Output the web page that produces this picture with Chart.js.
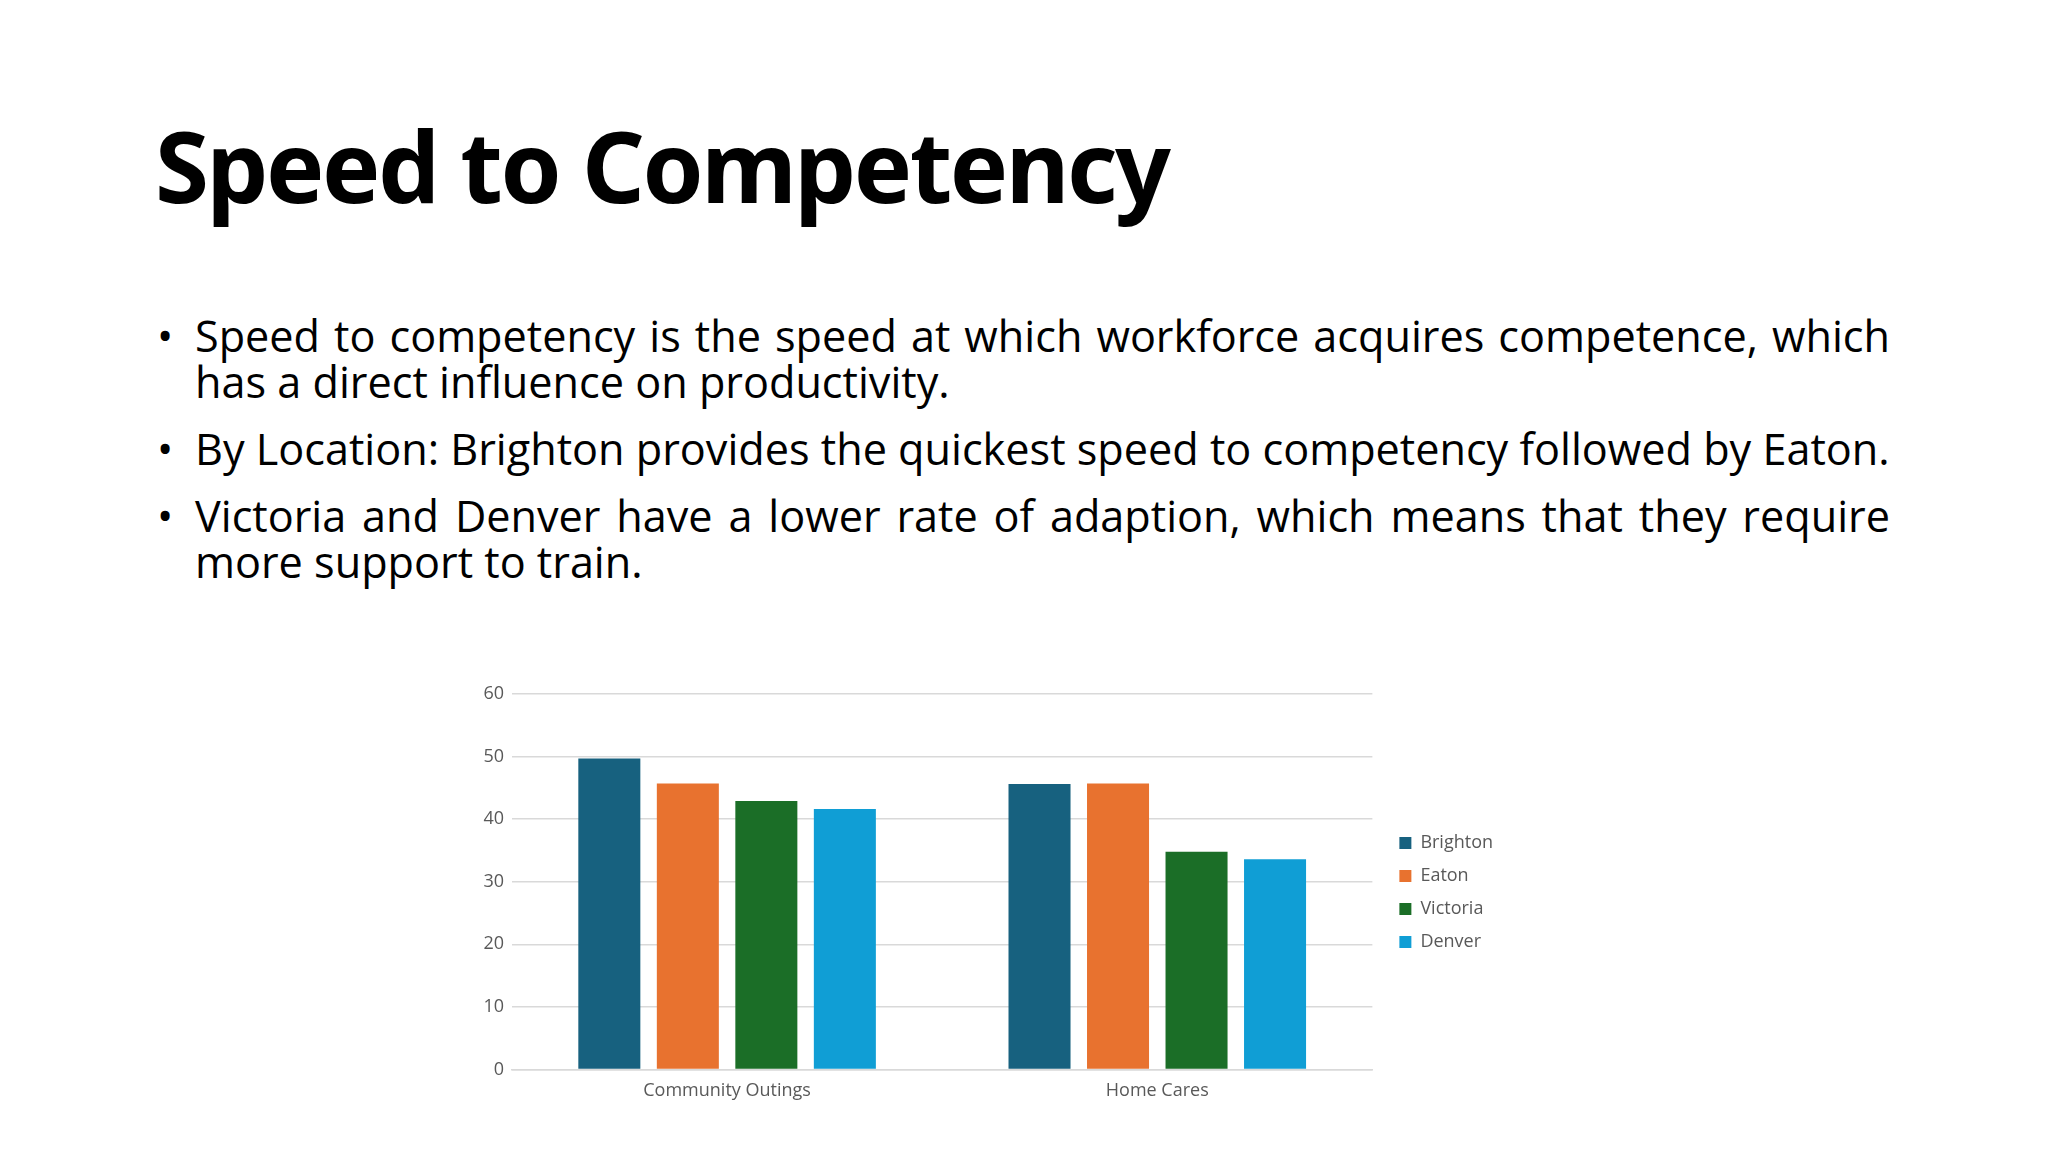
<!DOCTYPE html>
<html>
<head>
<meta charset="utf-8">
<script src="https://cdn.jsdelivr.net/npm/chart.js@4.4.0/dist/chart.umd.min.js"></script>
<style>
  html, body { margin: 0; padding: 0; background: #fff; }
  body { width: 2048px; height: 1152px; position: relative; overflow: hidden; font-family: "Open Sans", "Noto Sans", sans-serif; color: #000; }
  h1 { position: absolute; left: 155px; top: 116px; margin: 0; font-family: "Noto Sans", sans-serif; font-size: 98px; letter-spacing: -2.5px; line-height: 1; font-weight: 700; }
  ul { position: absolute; left: 157px; top: 313px; width: 1733px; margin: 0; padding: 0; list-style: none; font-size: 43.2px; line-height: 46px; }
  li { position: relative; padding-left: 38px; text-align: justify; margin-bottom: 21px; }
  li::before { content: "\2022"; position: absolute; left: 0; top: 0; }
  #chart-box { position: absolute; left: 440px; top: 670px; width: 1140px; height: 446px; }
</style>
</head>
<body>
<h1>Speed to Competency</h1>
<ul>
  <li>Speed to competency is the speed at which workforce acquires competence, which has a direct influence on productivity.</li>
  <li>By Location: Brighton provides the quickest speed to competency followed by Eaton.</li>
  <li>Victoria and Denver have a lower rate of adaption, which means that they require more support to train.</li>
</ul>
<div id="chart-box"><canvas id="speedChart"></canvas></div>
<script>
// chart data
const categories = ['Community Outings', 'Home Cares'];
const locations = ['Brighton', 'Eaton', 'Victoria', 'Denver'];
const brighton = [49.7, 45.6];
const eaton = [45.7, 45.7];
const victoria = [42.9, 34.8];
const denver = [41.6, 33.6];
const yTicks = [0, 10, 20, 30, 40, 50, 60];

let colorhex = ['#17617f', '#e8722f', '#1b6e27', '#109ed5'];
let seriesValues = [brighton, eaton, victoria, denver];

// nudge the legend a bit further from the plot
const legendNudge = {
    id: 'legendNudge',
    afterLayout(chart) {
        const lg = chart.legend;
        lg.left += 12; lg.right += 12;
        lg.top -= 7; lg.bottom -= 7;
    }
};

let ctx = document.getElementById('speedChart').getContext('2d');

let speedChart = new Chart(ctx, {
    type: 'bar',
    data: {
        labels: categories,
        datasets: locations.map((name, i) => ({
            label: name,
            data: seriesValues[i],
            backgroundColor: colorhex[i],
            barPercentage: 0.79,
            categoryPercentage: 0.73
        }))
    },
    options: {
        responsive: true,
        maintainAspectRatio: false,
        animation: false,
        layout: {
            padding: { left: 20, top: 24, right: 89, bottom: 11 }
        },
        scales: {
            x: {
                grid: { display: false },
                border: { display: true, color: '#d9d9d9', width: 1.5 },
                ticks: { color: '#595959', padding: 3, font: { family: 'Open Sans', size: 18 } }
            },
            y: {
                min: 0,
                max: 60,
                afterFit: scale => { scale.width = 52; },
                afterBuildTicks: scale => { scale.ticks = yTicks.map(v => ({ value: v })); },
                grid: { color: '#d9d9d9', lineWidth: 1.5, drawTicks: false },
                border: { display: false },
                ticks: { color: '#595959', padding: 8, font: { family: 'Open Sans', size: 18 } }
            }
        },
        plugins: {
            legend: {
                position: 'right',
                labels: {
                    boxWidth: 12,
                    boxHeight: 12,
                    padding: 15,
                    color: '#595959',
                    font: { family: 'Open Sans', size: 18 }
                }
            },
            tooltip: { enabled: false }
        }
    },
    plugins: [legendNudge]
});
</script>
</body>
</html>
